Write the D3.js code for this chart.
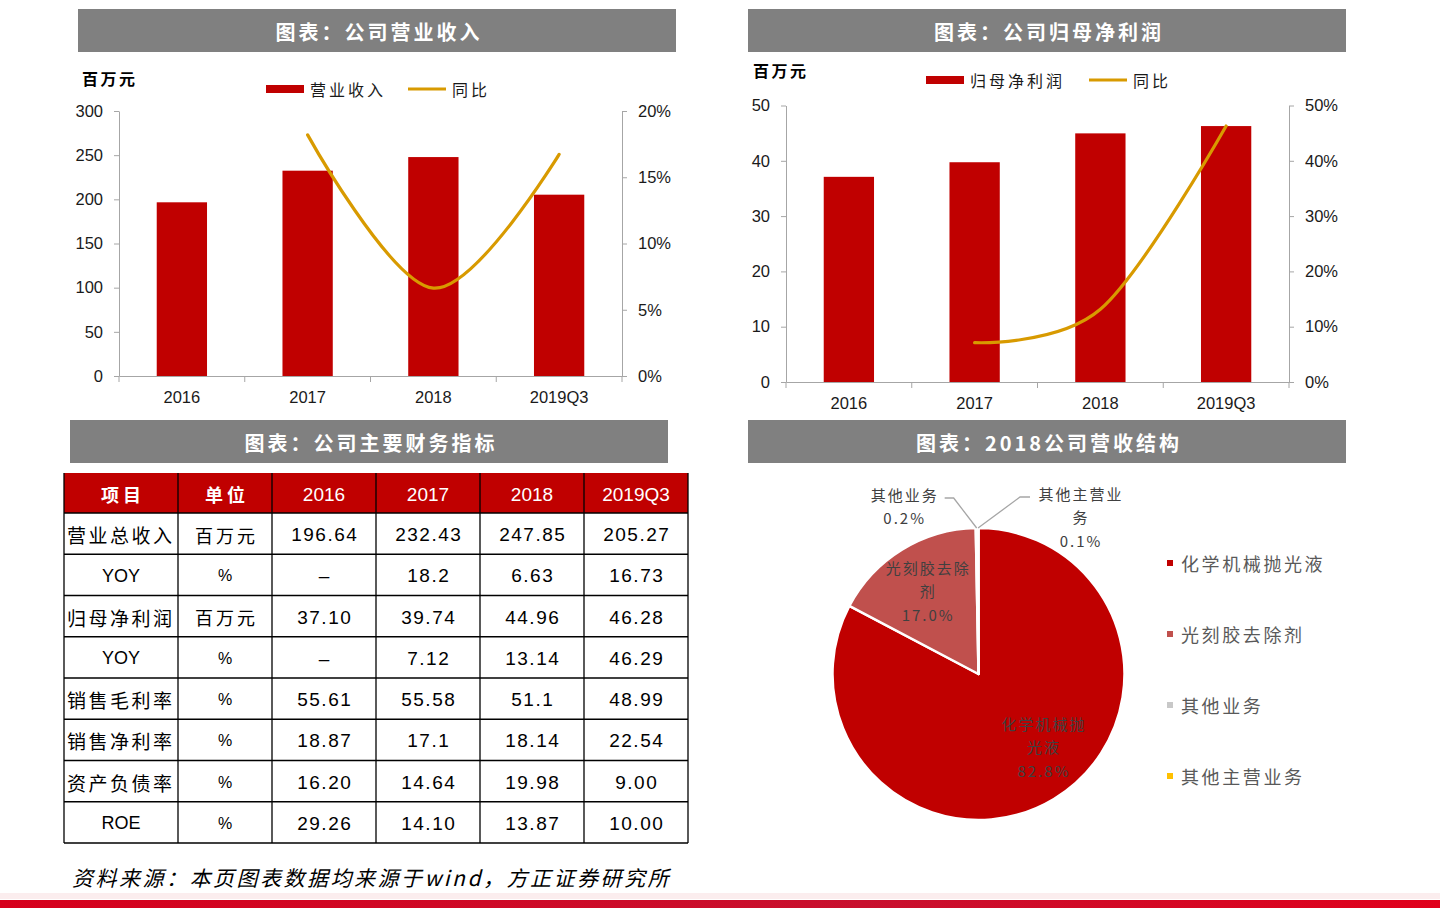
<!DOCTYPE html>
<html>
<head>
<meta charset="utf-8">
<script src="https://cdn.jsdelivr.net/npm/d3@7/dist/d3.min.js"></script>
<style>
  body { margin: 0; background: #fff; }
  text { font-family: "Noto Sans CJK SC", "Liberation Sans", sans-serif; }
  .num { font-family: "Liberation Sans", Arial, sans-serif; }
</style>
</head>
<body>
<script>
// data
var years = ["2016", "2017", "2018", "2019Q3"];
var revenue = [196.64, 232.43, 247.85, 205.27];
var revenueYoy = [null, 18.2, 6.63, 16.73];
var netProfit = [37.10, 39.74, 44.96, 46.28];
var netProfitYoy = [null, 7.12, 13.14, 46.29];
var revTicks = [0, 50, 100, 150, 200, 250, 300];
var revPctTicks = [0, 5, 10, 15, 20];
var profitTicks = [0, 10, 20, 30, 40, 50];
var profitPctTicks = [0, 10, 20, 30, 40, 50];

var tableHeader = ["项目", "单位", "2016", "2017", "2018", "2019Q3"];
var tableItems = ["营业总收入", "YOY", "归母净利润", "YOY", "销售毛利率", "销售净利率", "资产负债率", "ROE"];
var tableUnits = ["百万元", "%", "百万元", "%", "%", "%", "%", "%"];
var tableValues = [
  ["196.64", "232.43", "247.85", "205.27"],
  ["–", "18.2", "6.63", "16.73"],
  ["37.10", "39.74", "44.96", "46.28"],
  ["–", "7.12", "13.14", "46.29"],
  ["55.61", "55.58", "51.1", "48.99"],
  ["18.87", "17.1", "18.14", "22.54"],
  ["16.20", "14.64", "19.98", "9.00"],
  ["29.26", "14.10", "13.87", "10.00"]
];

var segNames = ["化学机械抛光液", "光刻胶去除剂", "其他业务", "其他主营业务"];
var segValues = [82.8, 17.0, 0.2, 0.1];
var segColors = ["#C00000", "#C0504D", "#C8C8C8", "#FFC000"];

var RED = "#C00000", GOLD = "#D89A00", AXIS = "#A6A6A6";

var svg = d3.select("body").append("svg")
  .attr("width", 1440)
  .attr("height", 908);
svg.append("rect").attr("width", 1440).attr("height", 908).attr("fill", "#fff");

function titleBar(x, y, w, h, label) {
  svg.append("rect").attr("x", x).attr("y", y).attr("width", w).attr("height", h)
    .attr("fill", "#808080");
  svg.append("text")
    .attr("x", x + w / 2 + 2).attr("y", y + h / 2 + 1)
    .attr("text-anchor", "middle").attr("dominant-baseline", "central")
    .attr("fill", "#fff").style("font-size", "20px").style("font-weight", "bold")
    .style("letter-spacing", "3px")
    .text(label);
}

function styleAxis(ax) {
  ax.select(".domain").attr("stroke", AXIS);
  ax.selectAll(".tick line").attr("stroke", AXIS);
  ax.selectAll("text").attr("class", "num").attr("fill", "#1a1a1a").style("font-size", "16.5px");
}

function drawCombo(cfg) {
  titleBar(cfg.barX, 9, 598, 43, cfg.title);
  var g = svg.append("g");

  g.append("text").attr("x", cfg.unitX).attr("y", cfg.unitY)
    .style("font-size", "16px").style("font-weight", "bold").style("letter-spacing", "2.5px")
    .text("百万元");

  // legend
  g.append("rect").attr("x", cfg.legX).attr("y", cfg.legY - 4).attr("width", 38).attr("height", 8)
    .attr("fill", RED);
  g.append("text").attr("x", cfg.legX + 44).attr("y", cfg.legY).attr("dominant-baseline", "central")
    .style("font-size", "16px").style("letter-spacing", "3px").attr("fill", "#1a1a1a").text(cfg.barName);
  g.append("line").attr("x1", cfg.legX2).attr("x2", cfg.legX2 + 38)
    .attr("y1", cfg.legY).attr("y2", cfg.legY).attr("stroke", GOLD).attr("stroke-width", 3);
  g.append("text").attr("x", cfg.legX2 + 44).attr("y", cfg.legY).attr("dominant-baseline", "central")
    .style("font-size", "16px").style("letter-spacing", "3px").attr("fill", "#1a1a1a").text("同比");

  var xCat = d3.scaleBand().domain(years).range([cfg.left, cfg.right]);
  var xBar = d3.scaleBand().domain(years).range([cfg.left, cfg.right])
    .paddingInner(0.6).paddingOuter(0.3);
  var y = d3.scaleLinear().domain([0, d3.max(cfg.yTicks)]).range([cfg.bottom, cfg.top]);
  var y2 = d3.scaleLinear().domain([0, d3.max(cfg.pctTicks)]).range([cfg.bottom, cfg.top]);

  g.selectAll(".bar").data(cfg.bars).enter().append("rect")
    .attr("x", function (d, i) { return xBar(years[i]); })
    .attr("y", function (d) { return y(d); })
    .attr("width", xBar.bandwidth())
    .attr("height", function (d) { return cfg.bottom - y(d); })
    .attr("fill", RED);

  var leftAx = g.append("g").attr("transform", "translate(" + cfg.left + ",0)")
    .call(d3.axisLeft(y).tickValues(cfg.yTicks).tickSize(5).tickSizeOuter(0).tickPadding(11));
  styleAxis(leftAx);

  var rightAx = g.append("g").attr("transform", "translate(" + cfg.right + ",0)")
    .call(d3.axisRight(y2).tickValues(cfg.pctTicks).tickSize(5).tickSizeOuter(0).tickPadding(11)
      .tickFormat(function (d) { return d + "%"; }));
  styleAxis(rightAx);

  var botAx = g.append("g").attr("transform", "translate(0," + cfg.bottom + ")")
    .call(d3.axisBottom(xCat).tickSize(0).tickSizeOuter(0).tickPadding(15.5));
  styleAxis(botAx);
  var edges = years.map(function (d) { return xCat(d); }).concat([cfg.right]);
  g.selectAll(".cat-tick").data(edges).enter().append("line")
    .attr("x1", function (d) { return d; }).attr("x2", function (d) { return d; })
    .attr("y1", cfg.bottom).attr("y2", cfg.bottom + 6)
    .attr("stroke", AXIS);

  var pts = cfg.yoy.map(function (v, i) { return { k: years[i], v: v }; })
    .filter(function (d) { return d.v != null; });
  var line = d3.line()
    .x(function (d) { return xCat(d.k) + xCat.bandwidth() / 2; })
    .y(function (d) { return y2(d.v); })
    .curve(d3.curveCatmullRom.alpha(0));
  g.append("path").datum(pts).attr("d", line)
    .attr("fill", "none").attr("stroke", GOLD).attr("stroke-width", 3.2)
    .attr("stroke-linecap", "round");
}

drawCombo({
  title: "图表：公司营业收入", barX: 78, unitX: 82, unitY: 85,
  legX: 266, legX2: 408, legY: 89, barName: "营业收入",
  left: 119, right: 622, top: 111, bottom: 376,
  bars: revenue, yoy: revenueYoy, yTicks: revTicks, pctTicks: revPctTicks
});
drawCombo({
  title: "图表：公司归母净利润", barX: 748, unitX: 753, unitY: 77,
  legX: 926, legX2: 1089, legY: 80, barName: "归母净利润",
  left: 786, right: 1289, top: 105.5, bottom: 382,
  bars: netProfit, yoy: netProfitYoy, yTicks: profitTicks, pctTicks: profitPctTicks
});

// table
titleBar(70, 420, 598, 43, "图表：公司主要财务指标");
var colWidths = [114, 94, 104, 104, 104, 104];
var colX = [64];
colWidths.forEach(function (w, i) { colX.push(colX[i] + w); });
var tTop = 473, headH = 40, rowH = 41.25;
var tBottom = tTop + headH + rowH * tableItems.length;
var tg = svg.append("g");
tg.append("rect").attr("x", colX[0]).attr("y", tTop).attr("width", colX[6] - colX[0]).attr("height", headH)
  .attr("fill", RED);
tableHeader.forEach(function (h, i) {
  var isCn = i < 2;
  tg.append("text")
    .attr("class", isCn ? null : "num")
    .attr("x", (colX[i] + colX[i + 1]) / 2 + (isCn ? 2 : 0)).attr("y", tTop + headH / 2 + 1)
    .attr("text-anchor", "middle").attr("dominant-baseline", "central")
    .attr("fill", "#fff").style("font-size", isCn ? "18px" : "19px")
    .style("font-weight", isCn ? "bold" : "normal")
    .style("letter-spacing", isCn ? "4px" : "0px")
    .text(h);
});
tableItems.forEach(function (item, r) {
  var cy = tTop + headH + rowH * r + rowH / 2 + 1;
  var cn = /[\u4e00-\u9fff]/.test(item);
  tg.append("text")
    .attr("x", cn ? 67 : (colX[0] + colX[1]) / 2).attr("y", cy)
    .attr("text-anchor", cn ? "start" : "middle").attr("dominant-baseline", "central")
    .attr("class", cn ? null : "num")
    .attr("fill", "#000").style("font-size", cn ? "19px" : "18px")
    .style("letter-spacing", cn ? "2.5px" : "0px")
    .text(item);
  var unitCn = tableUnits[r] !== "%";
  tg.append("text")
    .attr("x", (colX[1] + colX[2]) / 2 + (unitCn ? 1.5 : 0)).attr("y", cy)
    .attr("text-anchor", "middle").attr("dominant-baseline", "central")
    .attr("class", unitCn ? null : "num")
    .attr("fill", "#000").style("font-size", unitCn ? "18px" : "16px")
    .style("letter-spacing", unitCn ? "3px" : "0px")
    .text(tableUnits[r]);
  tableValues[r].forEach(function (v, c) {
    tg.append("text").attr("class", "num")
      .attr("x", (colX[c + 2] + colX[c + 3]) / 2 + 0.75).attr("y", cy)
      .attr("text-anchor", "middle").attr("dominant-baseline", "central")
      .attr("fill", "#000").style("font-size", "19px").style("letter-spacing", "1.5px")
      .text(v);
  });
});
for (var r = 0; r <= tableItems.length; r++) {
  var yy = tTop + headH + rowH * r;
  tg.append("line").attr("x1", colX[0]).attr("x2", colX[6]).attr("y1", yy).attr("y2", yy)
    .attr("stroke", "#000").attr("stroke-width", 1.3);
}
colX.forEach(function (x) {
  tg.append("line").attr("x1", x).attr("x2", x).attr("y1", tTop).attr("y2", tBottom)
    .attr("stroke", "#000").attr("stroke-width", 1.3);
});

// pie
titleBar(748, 420, 598, 43, "图表：2018公司营收结构");
var cx = 978.5, cy = 674, R = 146;
var pieData = d3.pie().sort(null)(segValues);
var arc = d3.arc().innerRadius(0).outerRadius(R);
var rimArc = d3.arc().innerRadius(R).outerRadius(R);
var labelArc = d3.arc().innerRadius(R * 0.67).outerRadius(R * 0.67);
var pg = svg.append("g").attr("transform", "translate(" + cx + "," + cy + ")");
pg.selectAll("path").data(pieData).enter().append("path")
  .attr("d", arc)
  .attr("fill", function (d, i) { return segColors[i]; })
  .attr("stroke", "#fff").attr("stroke-width", 2.5).attr("stroke-linejoin", "round");

function splitName(s) {
  var out = [];
  for (var i = 0; i < s.length; i += 5) out.push(s.slice(i, i + 5));
  return out;
}
function pctText(v) { return v.toFixed(1) + "%"; }

// labels inside the two big slices (Excel nudges the big one toward its upper side)
var insideShift = [[15, -11], [1, 0]];
[0, 1].forEach(function (i) {
  var c = labelArc.centroid(pieData[i]);
  var lines = splitName(segNames[i]).concat([pctText(segValues[i])]);
  var t = pg.append("text").attr("text-anchor", "middle").attr("fill", "#404040")
    .style("font-size", "15px").style("letter-spacing", "2px");
  lines.forEach(function (l, k) {
    t.append("tspan").attr("x", c[0] + insideShift[i][0])
      .attr("y", c[1] + insideShift[i][1] + (k - (lines.length - 1) / 2) * 23.5)
      .attr("dominant-baseline", "central").text(l);
  });
});

// leader labels for the two tiny slices
var leaderLayout = [
  null, null,
  { ex: -23, ey: -30, hx: -32, lx: -72, ly: -34 },
  { ex: 42, ey: -31, hx: 52, lx: 103, ly: -35 }
];
[2, 3].forEach(function (i) {
  var p = rimArc.centroid(pieData[i]);
  var L = leaderLayout[i];
  pg.append("polyline")
    .attr("points", [p, [p[0] + L.ex, p[1] + L.ey], [p[0] + L.hx, p[1] + L.ey]].join(" "))
    .attr("fill", "none").attr("stroke", "#A6A6A6").attr("stroke-width", 1.3);
  var lines = splitName(segNames[i]).concat([pctText(segValues[i])]);
  var t = pg.append("text").attr("text-anchor", "middle").attr("fill", "#404040")
    .style("font-size", "15px").style("letter-spacing", "2px");
  lines.forEach(function (l, k) {
    t.append("tspan").attr("x", p[0] + L.lx)
      .attr("y", p[1] + L.ly + k * 23.5)
      .attr("dominant-baseline", "central").text(l);
  });
});

// pie legend
var lg = svg.append("g");
segNames.forEach(function (n, i) {
  var ly = 563 + i * 71;
  lg.append("rect").attr("x", 1167).attr("y", ly - 3).attr("width", 6).attr("height", 6)
    .attr("fill", segColors[i]);
  lg.append("text").attr("x", 1181).attr("y", ly).attr("dominant-baseline", "central")
    .attr("fill", "#595959").style("font-size", "18px").style("letter-spacing", "2.6px")
    .text(n);
});

// footer
svg.append("text").attr("x", 72).attr("y", 877).attr("dominant-baseline", "central")
  .attr("fill", "#000").style("font-size", "21px").style("font-style", "italic")
  .style("letter-spacing", "2.5px")
  .text("资料来源：本页图表数据均来源于wind，方正证券研究所");
svg.append("rect").attr("x", 0).attr("y", 893).attr("width", 1440).attr("height", 6).attr("fill", "#FBEDEE");
var grad = svg.append("defs").append("linearGradient").attr("id", "stripe");
grad.append("stop").attr("offset", "0%").attr("stop-color", "#D6001C");
grad.append("stop").attr("offset", "60%").attr("stop-color", "#C8102E");
grad.append("stop").attr("offset", "100%").attr("stop-color", "#E0001B");
svg.append("rect").attr("x", 0).attr("y", 900).attr("width", 1440).attr("height", 8).attr("fill", "url(#stripe)");
</script>
</body>
</html>
